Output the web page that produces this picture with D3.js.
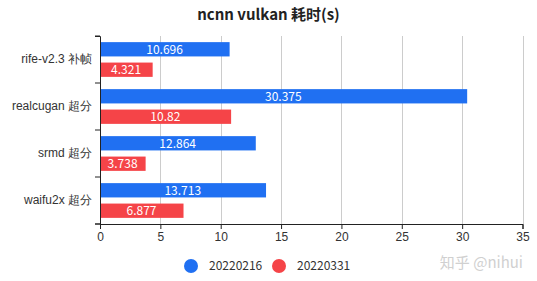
<!DOCTYPE html>
<html>
<head>
<meta charset="utf-8">
<script src="https://cdn.jsdelivr.net/npm/d3@7"></script>
<style>
  body { margin: 0; background: #fff; }
  svg { display: block; font-family: "Noto Sans CJK SC", "Noto Sans", sans-serif; }
  .axis path, .axis line { stroke: #222; }
  .axis text { fill: #333; font-size: 12px; }
  .grid line { stroke: #ccc; }
  .grid path { display: none; }
</style>
</head>
<body>
<svg id="chart" width="537" height="281"></svg>
<script>
const categories = ['rife-v2.3 补帧', 'realcugan 超分', 'srmd 超分', 'waifu2x 超分'];
const seriesNames = ['20220216', '20220331'];
const values20220216 = [10.696, 30.375, 12.864, 13.713];
const values20220331 = [4.321, 10.82, 3.738, 6.877];
const xTicks = [0, 5, 10, 15, 20, 25, 30, 35];
const colors = ['#2070f2', '#f54448'];

const margin = {top: 36, right: 14, bottom: 57, left: 100};
const W = 537, H = 281;
const width = W - margin.left - margin.right;
const height = H - margin.top - margin.bottom;

const svg = d3.select('#chart');
const g = svg.append('g').attr('transform', `translate(${margin.left},${margin.top})`);

const x = d3.scaleLinear().domain([0, 35]).range([0, width - 0.5]);
const y = d3.scaleBand().domain(categories).range([0, height]);
const inner = d3.scaleBand().domain(seriesNames).range([0, y.bandwidth()])
  .paddingInner(0.3).paddingOuter(0.3);

svg.append('text')
  .attr('x', W / 2).attr('y', 20)
  .attr('text-anchor', 'middle')
  .attr('font-size', 15).attr('font-weight', 'bold')
  .attr('fill', '#222')
  .text('ncnn vulkan 耗时(s)');

g.append('g').attr('class', 'grid')
  .selectAll('line').data(xTicks.slice(1)).enter().append('line')
  .attr('x1', d => Math.round(x(d)) + 0.5).attr('x2', d => Math.round(x(d)) + 0.5)
  .attr('y1', 0).attr('y2', height);

const rows = categories.map((c, i) => ({cat: c, vals: [values20220216[i], values20220331[i]]}));

const grp = g.selectAll('.cat').data(rows).enter().append('g')
  .attr('transform', d => `translate(0,${y(d.cat)})`);

grp.selectAll('rect').data(d => d.vals.map((v, j) => ({v, s: seriesNames[j], j})))
  .enter().append('rect')
  .attr('x', 0.5)
  .attr('y', d => inner(d.s))
  .attr('width', d => x(d.v))
  .attr('height', inner.bandwidth())
  .attr('fill', d => colors[d.j]);

grp.selectAll('text.val').data(d => d.vals.map((v, j) => ({v, s: seriesNames[j], j})))
  .enter().append('text')
  .attr('class', 'val')
  .attr('x', d => x(d.v) / 2)
  .attr('y', d => inner(d.s) + inner.bandwidth() / 2)
  .attr('dy', '0.36em')
  .attr('text-anchor', 'middle')
  .attr('font-size', 12)
  .attr('fill', '#fff')
  .text(d => d.v);

g.append('g').attr('class', 'axis')
  .attr('transform', `translate(0,${height})`)
  .call(d3.axisBottom(x).tickValues(xTicks).tickSize(5).tickSizeOuter(5).tickPadding(3));

const yAxis = g.append('g').attr('class', 'axis')
  .call(d3.axisLeft(y).tickSize(0).tickPadding(8));
yAxis.selectAll('.tick-b').data(d3.range(categories.length + 1)).enter().append('line')
  .attr('x1', -5).attr('x2', 0)
  .attr('y1', i => i * y.bandwidth()).attr('y2', i => i * y.bandwidth())
  .attr('stroke', '#222');
yAxis.select('.domain').attr('d', `M-5,0.5H0.5V${height}H-5`);

const legend = svg.append('g').attr('transform', 'translate(191,266)');
seriesNames.forEach((s, i) => {
  const item = legend.append('g').attr('transform', `translate(${i * 88},0)`);
  item.append('circle').attr('r', 7).attr('fill', colors[i]);
  item.append('text').attr('x', 18).attr('dy', '0.36em')
    .attr('font-size', 12).attr('fill', '#333').text(s);
});

svg.append('text')
  .attr('x', 523).attr('y', 268)
  .attr('text-anchor', 'end')
  .attr('font-size', 15)
  .attr('fill', '#d0d0d0')
  .text('知乎 @nihui');
</script>
</body>
</html>
